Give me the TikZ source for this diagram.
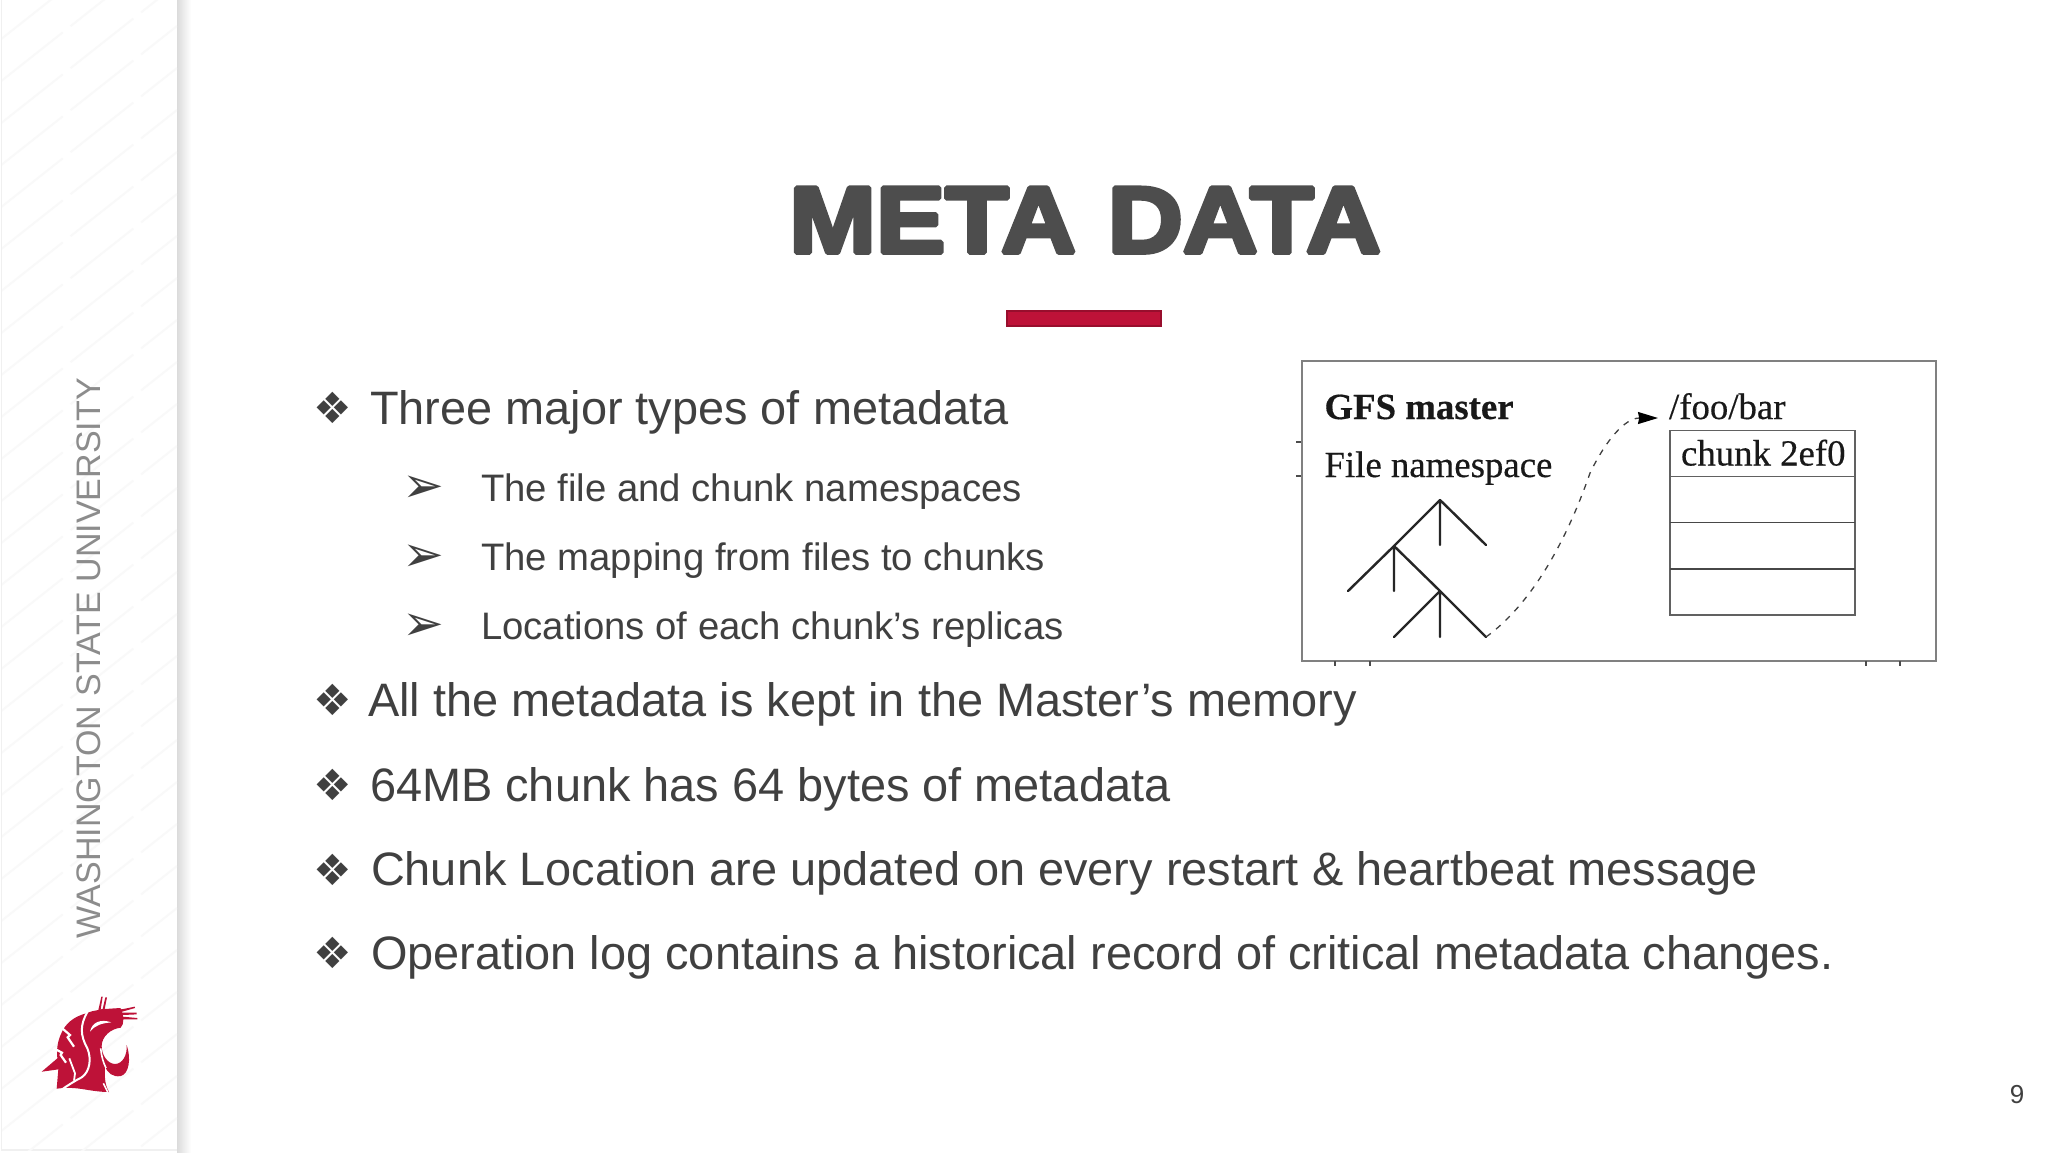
\documentclass[tikz,border=0pt]{standalone}
\usepackage{fontspec}
\setmainfont{Liberation Sans}
\newfontfamily\serifgfs[FakeBold=.4]{Liberation Serif}
\newfontfamily\dejav{DejaVu Sans}
\newfontfamily\titlefont[FakeBold=5,FakeStretch=1.105]{Liberation Sans Bold}
\usetikzlibrary{arrows.meta}
\definecolor{txt}{HTML}{404040}
\definecolor{wsu}{HTML}{BE1238}
\definecolor{titlec}{HTML}{4D4D4D}
\definecolor{sidegray}{HTML}{8C8C8C}
\definecolor{stripe}{HTML}{F9F9F9}
\tikzset{
  lbl/.style={anchor=base west,inner sep=0pt,outer sep=0pt,text=txt},
  mainitem/.style={lbl,font=\fontsize{23.45}{28}\selectfont},
  subitem/.style={lbl,font=\fontsize{19.15}{23}\selectfont},
  mainmark/.style={anchor=center,inner sep=0pt,text=txt,font=\dejav\fontsize{21.5}{24}\selectfont},
  submark/.style={anchor=center,inner sep=0pt,text=txt,font=\dejav\fontsize{25}{26}\selectfont},
  figtext/.style={anchor=base west,inner sep=0pt,outer sep=0pt,text=black!90,font=\serifgfs\fontsize{18.4}{22}\selectfont},
  framebox/.style={draw=black!50,line width=1pt},
  rowline/.style={draw=black!72,line width=.8pt},
  treeline/.style={draw=black!85,line width=1.2pt,line cap=round},
  tick/.style={draw=black!70,line width=.6pt},
  ptr/.style={draw=black!75,line width=.65pt,dash pattern=on 3pt off 3.4pt,
    -{Stealth[length=10pt,width=6pt,inset=.6pt,black]}},
}
\begin{document}
\begin{tikzpicture}[x=.5pt,y=-.5pt]
\useasboundingbox (0,0) rectangle (2048,1152);
\fill[white] (0,0) rectangle (2048,1152);
% sidebar shadow
\shade[left color=black!14,right color=white] (177,0) rectangle (191,1152);
\fill[white] (2,0) rectangle (177,1150);
\draw[black!6,line width=.8pt] (1.5,0) -- (1.5,1150) -- (177,1150);
\begin{scope}
\clip (2,0) rectangle (177,1150);
\foreach \k in {-2,...,31}
  \draw[stripe,line width=1pt,dash pattern=on 40pt off 5pt] (0,{\k*42+40}) -- (177,{\k*42-100});
\end{scope}
\node[anchor=base west,inner sep=0pt,rotate=90,text=sidegray,font=\fontsize{17}{20}\selectfont] (uni) at (100,938.5) {WASHINGTON STATE UNIVERSITY};
% logo
\begin{scope}[shift={(30,990)},x=.1667pt,y=-.1667pt]
\fill[wsu]
 (168,70) .. controls (140,78) and (115,92) .. (100,118)
 .. controls (88,140) and (78,165) .. (82,205)
 -- (35,245) -- (85,238) -- (80,296)
 .. controls (120,290) and (150,296) .. (175,300)
 .. controls (195,303) and (215,306) .. (237,306)
 .. controls (228,290) and (222,270) .. (225,228)
 .. controls (232,250) and (250,262) .. (272,258)
 .. controls (297,252) and (304,205) .. (290,165)
 .. controls (292,195) and (278,222) .. (254,222)
 .. controls (232,220) and (215,195) .. (215,168)
 .. controls (215,140) and (242,116) .. (272,113)
 .. controls (278,108) and (280,98) .. (280,88)
 -- (322,88) -- (322,84) -- (279,80) -- (278,75) -- (320,73) -- (320,68) -- (276,68)
 -- (276,65) -- (315,54) -- (314,50) -- (275,58) -- (270,54)
 -- (224,57) -- (231,22) -- (226,22) -- (218,57) -- (212,58) -- (218,20) -- (214,20) -- (205,60)
 -- (185,64) -- cycle;
\draw[white,line width=1pt] (172,66) .. controls (150,105) and (150,135) .. (172,175)
  .. controls (185,205) and (180,245) .. (155,262) .. controls (135,272) and (115,285) .. (96,298);
\draw[white,line width=1.1pt] (98,116) -- (120,135) -- (113,142) -- (132,170);
\draw[white,line width=1.1pt] (70,174) -- (96,188) -- (92,195) -- (108,218);
\draw[white,line width=.9pt] (118,205) -- (135,250) -- (132,272);
\fill[white] (180,125) .. controls (186,96) and (212,86) .. (244,97)
  .. controls (215,100) and (197,104) .. (180,125) -- cycle;
\draw[white,line width=.8pt] (212,175) .. controls (214,198) and (220,218) .. (228,234);
\draw[white,line width=.8pt] (234,308) -- (220,280);
\end{scope}
% title
\node[anchor=base west,inner sep=0pt,text=titlec,font=\titlefont\fontsize{47}{56}\selectfont] (title) at (789,252.5) {\special{pdf:code 0 j 1.2 M}META\kern1.5pt{} DATA};
\fill[wsu,draw=wsu!80!black,line width=.6pt] (1007,311) rectangle (1161,326);
% bullets
\node[mainmark] (m1) at (333,408) {❖};
\node[mainitem] (t1) at (370,424) {Three major types of metadata};
\node[submark] (s1) at (423,489) {➢};
\node[subitem] (u1) at (481,501) {The file and chunk namespaces};
\node[submark] (s2) at (423,558.5) {➢};
\node[subitem] (u2) at (481,570.5) {The mapping from files to chunks};
\node[submark] (s3) at (423,627.5) {➢};
\node[subitem] (u3) at (481,639) {Locations of each chunk’s replicas};
\node[mainmark] (m2) at (333,700) {❖};
\node[mainitem] (t2) at (368,716) {All the metadata is kept in the Master’s memory};
\node[mainmark] (m3) at (333,785) {❖};
\node[mainitem] (t3) at (370,801) {64MB chunk has 64 bytes of metadata};
\node[mainmark] (m4) at (333,870) {❖};
\node[mainitem] (t4) at (371,885.5) {Chunk Location are updated on every restart \& heartbeat message};
\node[mainmark] (m5) at (333,953) {❖};
\node[mainitem] (t5) at (371,969) {Operation log contains a historical record of critical metadata changes.};
\node[anchor=center,inner sep=0pt,text=txt,font=\fontsize{13}{16}\selectfont] (pg) at (2017,1095) {9};
% figure frame
\draw[framebox] (1301.5,361) rectangle (1936,661);
\foreach \a/\b in {1296/442,1296/476} \draw[tick] (\a,\b) -- (1301,\b);
\foreach \a in {1335,1370,1866,1900} \draw[tick] (\a,661) -- (\a,666);
\node[figtext,font=\serifgfs\bfseries\fontsize{18.4}{22}\selectfont] (gfs) at (1324.5,419) {GFS master};
\node[figtext] (fns) at (1324.5,477) {File namespace};
\node[figtext] (foo) at (1669,419) {/foo/bar};
% table
\draw[rowline,draw=black!62] (1670,430.5) rectangle (1855,615);
\draw[rowline,draw=black!62] (1670,476.5) -- (1855,476.5);
\draw[rowline] (1670,522.5) -- (1855,522.5);
\draw[rowline,line width=1pt] (1670,568.5) -- (1855,568.5);
\node[figtext] (chunk) at (1681,465.5) {chunk 2ef0};
% tree
\coordinate (r) at (1440,500);
\coordinate (a) at (1394,546);
\coordinate (b) at (1440,545);
\coordinate (c) at (1486,545);
\coordinate (d) at (1348,591);
\coordinate (e) at (1394,591);
\coordinate (f) at (1440,591);
\coordinate (g) at (1394,637);
\coordinate (h) at (1440,637);
\coordinate (i) at (1486,637);
\draw[treeline] (r) -- (a) (r) -- (b) (r) -- (c);
\draw[treeline] (a) -- (d) (a) -- (e) (a) -- (f);
\draw[treeline] (f) -- (g) (f) -- (h) (f) -- (i);
\coordinate (kink) at (1590,473);
\coordinate (tip) at (1658,418);
\draw[ptr] (i) .. controls (1530,605) and (1565,545) .. (kink)
  .. controls (1606,440) and (1625,418) .. (tip);
\end{tikzpicture}
\end{document}
